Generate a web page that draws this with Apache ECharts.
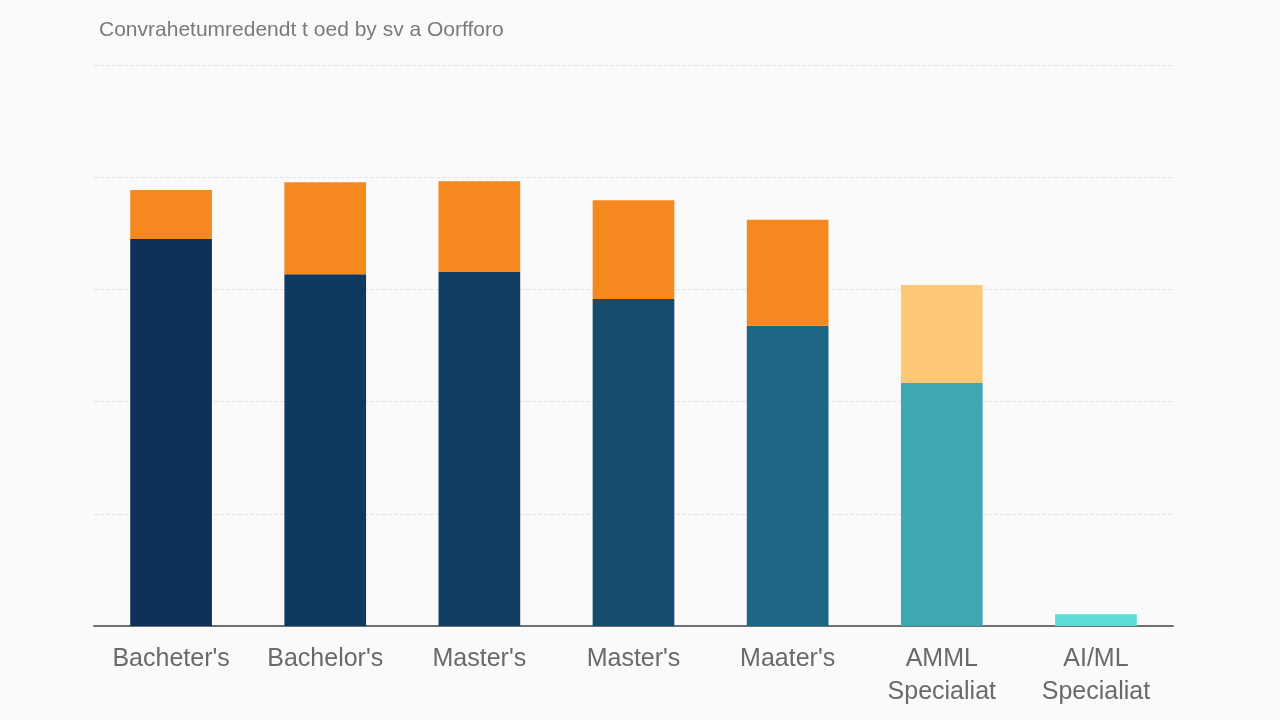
<!DOCTYPE html>
<html>
<head>
<meta charset="utf-8">
<script src="https://cdn.jsdelivr.net/npm/echarts@6/dist/echarts.min.js"></script>
<style>
html,body{margin:0;padding:0;background:#fafafa;}
#chart{width:1280px;height:720px;}
</style>
</head>
<body>
<div id="chart"></div>
<script>
var titleText = "Convrahetumredendt t oed by sv a Oorfforo";
var categories = ["Bacheter's", "Bachelor's", "Master's", "Master's", "Maater's", "AMML\nSpecialiat", "AI/ML\nSpecialiat"];
var baseValues = [69.0, 62.7, 63.1, 58.3, 53.5, 43.3, 2.1];
var topValues = [8.7, 16.4, 16.2, 17.6, 18.9, 17.5, 0];
var yTicks = [0, 20, 40, 60, 80, 100];

var basePalette = ["#0e3257", "#0f3a5f", "#113e63", "#164d6e", "#1d6785", "#3fa6b4", "#5ddcd8"];
var topPalette = ["#f5891f", "#f5891f", "#f5891f", "#f5891f", "#f5891f", "#fcc878", "#f5891f"];

var chart = echarts.init(document.getElementById('chart'), null, {renderer: 'canvas'});
chart.setOption({
  backgroundColor: '#fafafa',
  animation: false,
  title: {
    text: titleText,
    left: 94,
    top: 15,
    textStyle: {color: '#7a7a7a', fontSize: 21, fontWeight: 'normal', fontFamily: 'Liberation Sans'}
  },
  grid: {left: 94, right: 107, top: 65, bottom: 94, containLabel: false},
  xAxis: {
    type: 'category',
    data: categories,
    axisTick: {show: false},
    axisLine: {lineStyle: {color: '#707070', width: 2}},
    axisLabel: {
      color: '#6a6a6a',
      fontSize: 25,
      fontFamily: 'Liberation Sans',
      lineHeight: 33,
      margin: 17,
      interval: 0
    }
  },
  yAxis: {
    type: 'value',
    min: yTicks[0],
    max: yTicks[yTicks.length - 1],
    interval: yTicks[1] - yTicks[0],
    axisLabel: {show: false},
    axisLine: {show: false},
    axisTick: {show: false},
    splitLine: {lineStyle: {color: '#e4e4e4', type: 'dashed', width: 1}}
  },
  series: [
    {
      type: 'bar',
      stack: 'total',
      barWidth: '53%',
      data: baseValues.map(function (v, i) {
        return {value: v, itemStyle: {color: basePalette[i]}};
      })
    },
    {
      type: 'bar',
      stack: 'total',
      barWidth: '53%',
      data: topValues.map(function (v, i) {
        return {value: v, itemStyle: {color: topPalette[i]}};
      })
    }
  ]
});
</script>
</body>
</html>
